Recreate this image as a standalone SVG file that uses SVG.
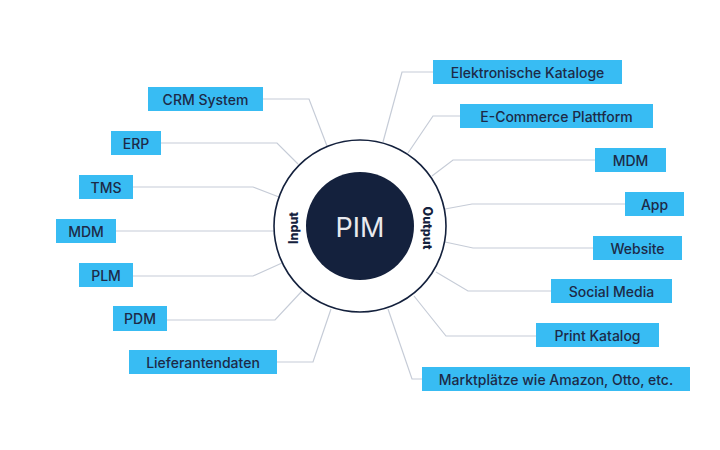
<svg xmlns="http://www.w3.org/2000/svg" width="720" height="450" viewBox="0 0 720 450">
<style>
.box{fill:#38bcf3}
.lbl{font-family:Inter,"Liberation Sans",sans-serif;font-size:14px;font-weight:500;fill:#1d2a47;text-anchor:middle;dominant-baseline:central}
.con{fill:none;stroke:#c6ccd7;stroke-width:1.2}
.side{font-family:Inter,"Liberation Sans",sans-serif;font-size:12.5px;font-weight:800;fill:#14213d;text-anchor:middle;dominant-baseline:central}
</style>
<rect width="720" height="450" fill="#ffffff"/>
<g id="connectors">
<polyline class="con" points="263,99 309,99 327,146"/>
<polyline class="con" points="161,143 277,143 298,164"/>
<polyline class="con" points="133,187 253,187 279,197"/>
<polyline class="con" points="116,231 275,231"/>
<polyline class="con" points="133,276 253,276 282,263"/>
<polyline class="con" points="167,320 275,320 302,291"/>
<polyline class="con" points="277,362 313,362 331,309"/>
<polyline class="con" points="433,72 402,72 383,142"/>
<polyline class="con" points="460,116 433,116 408,153"/>
<polyline class="con" points="595,160 453,160 432,176"/>
<polyline class="con" points="625,204 472,204 445,209"/>
<polyline class="con" points="593,248 473,248 445,242"/>
<polyline class="con" points="551,291 468,291 436,272"/>
<polyline class="con" points="536,336 446,336 414,296"/>
<polyline class="con" points="422,379 412,379 388,309"/>
</g>
<g id="pim">
<circle cx="360" cy="226" r="86" fill="#ffffff" stroke="#14213d" stroke-width="1.6"/>
<circle cx="360" cy="226" r="54" fill="#14213d"/>
<text x="360" y="227" font-family="Inter,'Liberation Sans',sans-serif" font-size="27" fill="#e8e9ee" text-anchor="middle" dominant-baseline="central">PIM</text>
<text class="side" transform="translate(293,228) rotate(-90)">Input</text>
<text class="side" transform="translate(427,228) rotate(90)">Output</text>
</g>
<g id="crm"><rect class="box" x="148" y="87" width="115" height="24"/><text class="lbl" x="205.5" y="99">CRM System</text></g>
<g id="erp"><rect class="box" x="111" y="131" width="50" height="24"/><text class="lbl" x="136" y="143">ERP</text></g>
<g id="tms"><rect class="box" x="79" y="175" width="54" height="24"/><text class="lbl" x="106" y="187">TMS</text></g>
<g id="mdm-in"><rect class="box" x="56" y="219" width="60" height="24"/><text class="lbl" x="86" y="231">MDM</text></g>
<g id="plm"><rect class="box" x="79" y="263" width="54" height="24"/><text class="lbl" x="106" y="275">PLM</text></g>
<g id="pdm"><rect class="box" x="113" y="306" width="54" height="25"/><text class="lbl" x="140" y="318.5">PDM</text></g>
<g id="lieferantendaten"><rect class="box" x="129" y="350" width="148" height="24"/><text class="lbl" x="203" y="362">Lieferantendaten</text></g>
<g id="kataloge"><rect class="box" x="433" y="60" width="189" height="24"/><text class="lbl" x="527.5" y="72">Elektronische Kataloge</text></g>
<g id="ecommerce"><rect class="box" x="460" y="104" width="193" height="24"/><text class="lbl" x="556.5" y="116">E-Commerce Plattform</text></g>
<g id="mdm-out"><rect class="box" x="595" y="148" width="71" height="24"/><text class="lbl" x="630.5" y="160">MDM</text></g>
<g id="app"><rect class="box" x="625" y="192" width="59" height="24"/><text class="lbl" x="654.5" y="204">App</text></g>
<g id="website"><rect class="box" x="593" y="236" width="89" height="24"/><text class="lbl" x="637.5" y="248">Website</text></g>
<g id="social"><rect class="box" x="551" y="279" width="121" height="24"/><text class="lbl" x="611.5" y="291">Social Media</text></g>
<g id="print"><rect class="box" x="536" y="323" width="123" height="24"/><text class="lbl" x="597.5" y="335">Print Katalog</text></g>
<g id="marktplaetze"><rect class="box" x="422" y="367" width="268" height="24"/><text class="lbl" x="556" y="379">Marktplätze wie Amazon, Otto, etc.</text></g>
</svg>
